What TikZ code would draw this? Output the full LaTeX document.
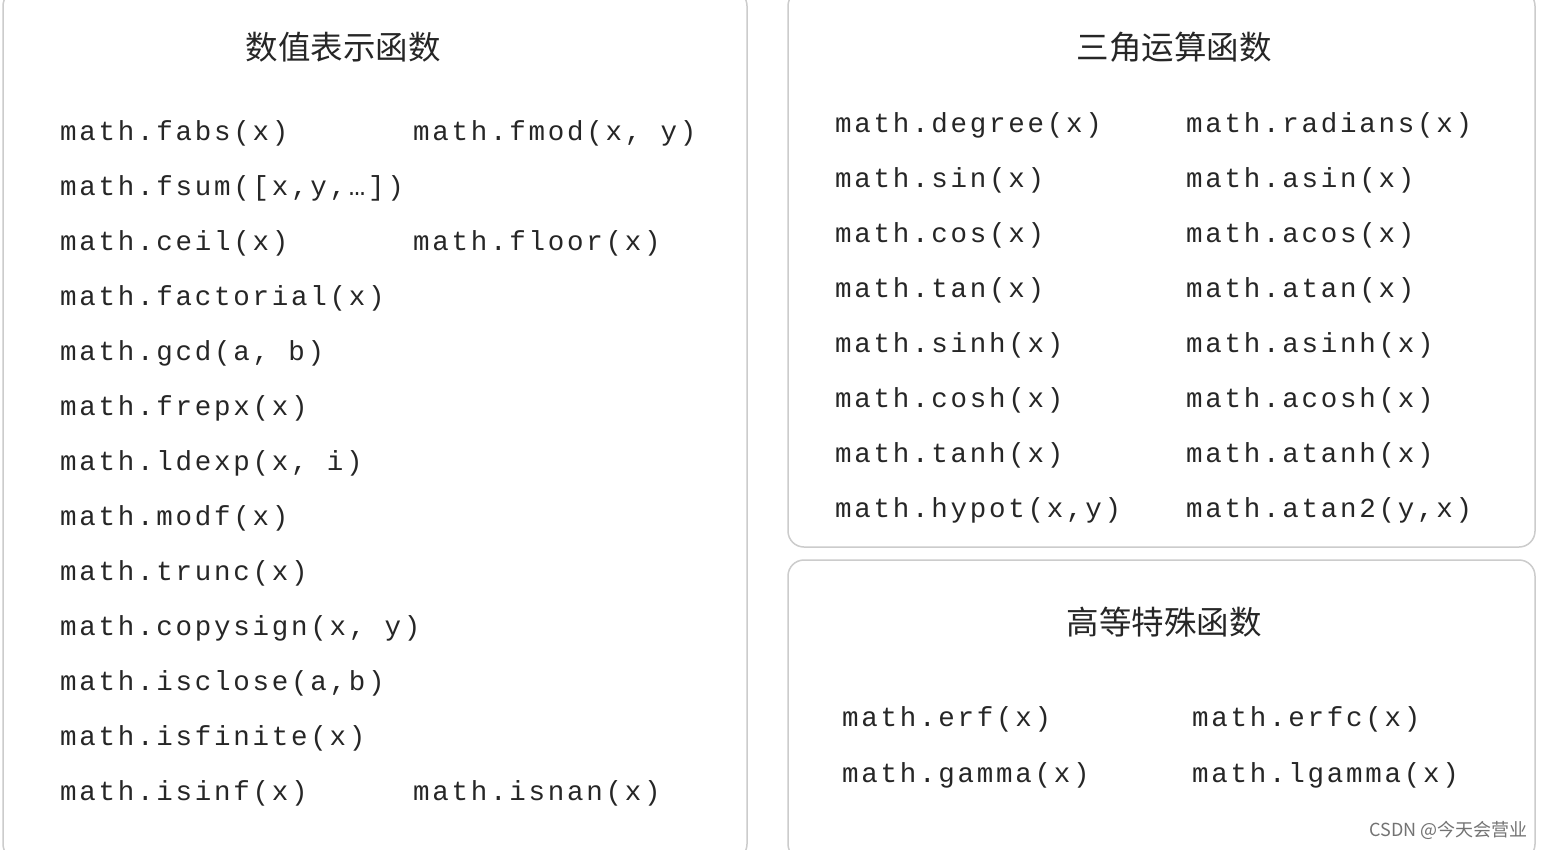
\documentclass[tikz,border=0pt]{standalone}
\usepackage{fontspec}
\setmonofont{Liberation Mono}[LetterSpace=10]
\newfontfamily\cjk{Noto Sans CJK SC}
\begin{document}
\begin{tikzpicture}[x=1pt,y=-1pt,
  panel/.style={draw=black!20,line width=1.5pt,rounded corners=16pt,fill=white},
  fn/.style={anchor=west,inner sep=0pt,text=black!85,font=\ttfamily\fontsize{27.5}{30}\selectfont},
  ttl/.style={inner sep=0pt,text=black!85,font=\cjk\fontsize{32.5}{36}\selectfont}]
\useasboundingbox (0,0) rectangle (1544,849);
\fill[white] (0,0) rectangle (1544,849);
\draw[panel] (3,-10) rectangle (747,860);
\draw[panel] (788,-10) rectangle (1535,547);
\draw[panel] (788,560) rectangle (1535,860);
\node[ttl] (t1) at (343,47) {数值表示函数};
\node[ttl] (t2) at (1174,47) {三角运算函数};
\node[ttl] (t3) at (1164,622) {高等特殊函数};
\foreach \t [count=\i] in {math.fabs(x),math.fsum([x{,}y{,}…]),math.ceil(x),math.factorial(x),math.gcd(a{,} b),math.frepx(x),math.ldexp(x{,} i),math.modf(x),math.trunc(x),math.copysign(x{,} y),math.isclose(a{,}b),math.isfinite(x),math.isinf(x)}
  \node[fn] (l\i) at (60,{133+(\i-1)*55}) {\t};
\node[fn] (r1) at (413,133) {math.fmod(x, y)};
\node[fn] (r3) at (413,243) {math.floor(x)};
\node[fn] (r13) at (413,793) {math.isnan(x)};
\foreach \a/\b [count=\i] in {degree(x)/radians(x),sin(x)/asin(x),cos(x)/acos(x),tan(x)/atan(x),sinh(x)/asinh(x),cosh(x)/acosh(x),tanh(x)/atanh(x),{hypot(x,y)}/{atan2(y,x)}}{
  \node[fn] (ta\i) at (835,{125+(\i-1)*55.1}) {math.\a};
  \node[fn] (tb\i) at (1186,{125+(\i-1)*55.1}) {math.\b};}
\node[fn] (s1) at (842,719) {math.erf(x)};
\node[fn] (s2) at (1192,719) {math.erfc(x)};
\node[fn] (s3) at (842,775) {math.gamma(x)};
\node[fn] (s4) at (1192,775) {math.lgamma(x)};
\node[anchor=east,inner sep=0pt,text=black!55,font=\cjk\fontsize{18}{20}\selectfont] (wm) at (1528,830) {CSDN @今天会营业};
\end{tikzpicture}
\end{document}
